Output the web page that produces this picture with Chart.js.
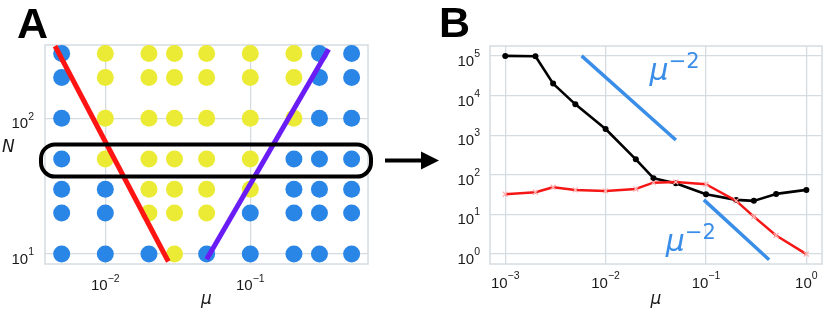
<!DOCTYPE html>
<html>
<head>
<meta charset="utf-8">
<script src="https://cdn.jsdelivr.net/npm/chart.js@4.4.1/dist/chart.umd.min.js"></script>
<style>
  html, body { margin: 0; padding: 0; background: #fff; }
  #wrap { position: relative; width: 830px; height: 316px; overflow: hidden; }
  canvas { position: absolute; top: 0; }
  #cA { left: 0; }
  #cB { left: 430px; }
</style>
</head>
<body>
<div id="wrap">
  <canvas id="cA" width="440" height="316"></canvas>
  <canvas id="cB" width="400" height="316"></canvas>
</div>
<script>
// ## Data: panel A (phase grid) ##########################################
const gridMu = [0.005, 0.01, 0.02, 0.03, 0.05, 0.1, 0.2, 0.3, 0.5];
const gridN  = [300, 200, 100, 50, 30, 20, 10];
// 1 = yellow, 0 = blue, one row per N value above
const gridPhase = [
  [0, 1, 1, 1, 1, 1, 1, 0, 0],
  [0, 1, 1, 1, 1, 1, 1, 0, 0],
  [0, 1, 1, 1, 1, 1, 1, 0, 0],
  [0, 1, 1, 1, 1, 1, 0, 0, 0],
  [0, 0, 1, 1, 1, 1, 0, 0, 0],
  [0, 0, 1, 1, 1, 0, 0, 0, 0],
  [0, 0, 0, 1, 0, 0, 0, 0, 0]
];
const redBoundMu    = [0.0045, 0.0272];
const redBoundN     = [341, 8.8];
const purpleBoundMu = [0.050, 0.347];
const purpleBoundN  = [9.15, 322];
const highlightN    = 50;
const ticksAx = [0.01, 0.1];
const ticksAy = [10, 100];

// ## Data: panel B ######################################################
const muB    = [0.001, 0.002, 0.003, 0.005, 0.01, 0.02, 0.03, 0.05, 0.1, 0.2, 0.3, 0.5, 1];
const blackB = [100000, 98000, 20000, 6000, 1430, 246, 82, 61, 32.4, 23.3, 22, 33, 41.6];
const redB   = [32.4, 36.4, 48.6, 41.6, 39.2, 44, 63.5, 66.1, 57.8, 22, 8.8, 2.94, 1];
const slopeUpperMu = [0.00577, 0.0501];
const slopeUpperY  = [100000, 755];
const slopeLowerMu = [0.0953, 0.4256];
const slopeLowerY  = [23.3, 0.718];
const slopeLabelMu = [0.0287, 0.0417];
const slopeLabelY  = [24400, 1.21];
const ticksBx = [0.001, 0.01, 0.1, 1];
const ticksBy = [1, 10, 100, 1000, 10000, 100000];

// ## helpers ############################################################
const GRID = '#d5dce1';
const BLUE = '#2a86e6';
const YELLOW = '#ebeb35';
const SLOPE = '#3a8ee8';
const TXT = '#1a1a1a';
const F_BASE = '15px Liberation Sans, Arial, sans-serif';
const F_SUP  = '10.5px Liberation Sans, Arial, sans-serif';

function zip(xs, ys) { return xs.map((x, i) => ({ x, y: ys[i] })); }

/** exponent text for a power of ten, with a real minus sign */
function expOf(v) {
  return String(Math.round(Math.log10(v))).replace('-', '−');
}

/** log axis with fixed ticks only, labels drawn by powTicks */
function logAxis(min, max, ticks, size, extra) {
  return Object.assign({
    type: 'logarithmic',
    min, max,
    afterBuildTicks: s => { s.ticks = ticks.map(v => ({ value: v })); },
    afterFit: s => { if (s.isHorizontal()) s.height = size; else s.width = size; },
    grid: { color: GRID, lineWidth: 1.3, drawTicks: false },
    border: { display: false },
    ticks: { display: false }
  }, extra || {});
}

const muTitle = {
  display: true, text: 'μ', color: TXT,
  font: { family: 'DejaVu Sans', size: 17, style: 'italic' },
  padding: { top: 0, bottom: 6 }
};

// frame around plot area, drawn under data
const frame = {
  id: 'frame',
  beforeDatasetsDraw(chart) {
    const { ctx, chartArea: a } = chart;
    ctx.save();
    ctx.strokeStyle = GRID;
    ctx.lineWidth = 1.5;
    ctx.strokeRect(a.left, a.top, a.right - a.left, a.bottom - a.top);
    ctx.restore();
  }
};

// "10" + raised exponent at every tick of both scales
const powTicks = {
  id: 'powTicks',
  afterDraw(chart, args, o) {
    const { ctx, chartArea: a, scales: { x, y } } = chart;
    ctx.save();
    ctx.fillStyle = TXT;
    const label = (v, lx, base) => {
      ctx.font = F_BASE; ctx.fillText('10', lx, base);
      const w = ctx.measureText('10').width;
      ctx.font = F_SUP; ctx.fillText(expOf(v), lx + w, base - o.raise);
    };
    const width = v => {
      ctx.font = F_BASE; const w1 = ctx.measureText('10').width;
      ctx.font = F_SUP;  return w1 + ctx.measureText(expOf(v)).width;
    };
    x.ticks.forEach(t => {
      const px = x.getPixelForValue(t.value);
      label(t.value, px - width(t.value) / 2, a.bottom + o.xBase);
    });
    y.ticks.forEach(t => {
      const py = y.getPixelForValue(t.value);
      label(t.value, a.left - o.yGap - width(t.value), py + 10);
    });
    ctx.restore();
  }
};

// ## Panel A ############################################################
const blueDots = [], yellowDots = [];
gridN.forEach((n, r) => gridMu.forEach((m, c) => {
  (gridPhase[r][c] ? yellowDots : blueDots).push({ x: m, y: n });
}));

const panelAExtras = {
  id: 'panelAExtras',
  afterDraw(chart) {
    const { ctx, chartArea: a } = chart;
    const y = chart.scales.y.getPixelForValue(highlightN) + 1.5;
    ctx.save();
    // highlighted row
    ctx.strokeStyle = '#000';
    ctx.fillStyle = '#000';
    ctx.lineWidth = 4;
    ctx.beginPath();
    ctx.roundRect(a.left - 4, y - 16, a.right - a.left + 7, 32, 14);
    ctx.stroke();
    // arrow to panel B
    const x0 = a.right + 17, x1 = x0 + 54;
    ctx.beginPath();
    ctx.moveTo(x0, y); ctx.lineTo(x1 - 14, y);
    ctx.stroke();
    ctx.beginPath();
    ctx.moveTo(x1, y); ctx.lineTo(x1 - 18, y - 9); ctx.lineTo(x1 - 18, y + 9);
    ctx.closePath(); ctx.fill();
    // letter + y label
    ctx.font = 'bold 43px Liberation Sans, Arial, sans-serif';
    ctx.fillText('A', 17, 38);
    ctx.fillStyle = TXT;
    ctx.font = 'italic 17px DejaVu Sans';
    ctx.fillText('N', 2, 152);
    ctx.restore();
  }
};

new Chart(document.getElementById('cA'), {
  type: 'scatter',
  data: {
    datasets: [
      { data: zip(redBoundMu, redBoundN), type: 'line', showLine: true, borderColor: '#ff1414',
        borderWidth: 5, pointRadius: 0, borderCapStyle: 'butt', order: 0 },
      { data: zip(purpleBoundMu, purpleBoundN), type: 'line', showLine: true, borderColor: '#6a1cf5',
        borderWidth: 5, pointRadius: 0, borderCapStyle: 'butt', order: 0 },
      { data: blueDots, pointRadius: 8.5, pointBackgroundColor: BLUE, pointBorderWidth: 0, order: 1 },
      { data: yellowDots, pointRadius: 8.5, pointBackgroundColor: YELLOW, pointBorderWidth: 0, order: 1 }
    ]
  },
  options: {
    responsive: false,
    animation: false,
    layout: { padding: { left: 0, top: 45, right: 72, bottom: 0 } },
    plugins: {
      legend: { display: false }, tooltip: { enabled: false },
      powTicks: { xBase: 26, yGap: 11, raise: 8.5 }
    },
    scales: {
      x: logAxis(0.003837, 0.6486, ticksAx, 52, { title: muTitle }),
      y: logAxis(8.43, 346.7, ticksAy, 45)
    }
  },
  plugins: [frame, powTicks, panelAExtras]
});

// ## Panel B ############################################################
const panelBExtras = {
  id: 'panelBExtras',
  afterDraw(chart) {
    const { ctx, scales: { x, y } } = chart;
    ctx.save();
    ctx.fillStyle = '#000';
    ctx.font = 'bold 43px Liberation Sans, Arial, sans-serif';
    ctx.fillText('B', 9, 37);
    ctx.fillStyle = SLOPE;
    slopeLabelMu.forEach((m, i) => {
      const px = x.getPixelForValue(m), py = y.getPixelForValue(slopeLabelY[i]);
      ctx.font = 'italic 30px DejaVu Sans';
      ctx.fillText('μ', px - 2, py);
      const w = ctx.measureText('μ').width;
      ctx.font = '21px DejaVu Sans';
      ctx.fillText('−2', px - 2 + w, py - 12);
    });
    ctx.restore();
  }
};

new Chart(document.getElementById('cB'), {
  type: 'scatter',
  data: {
    datasets: [
      { data: zip(muB, redB), showLine: true, borderColor: '#f51616', borderWidth: 2.5,
        borderJoinStyle: 'round', pointStyle: 'crossRot', pointRadius: 3.5,
        pointBorderColor: '#ffb0b0', pointBorderWidth: 1.3, order: 0 },
      { data: zip(muB, blackB), showLine: true, borderColor: '#000', borderWidth: 2.6,
        borderJoinStyle: 'round', pointRadius: 3, pointBackgroundColor: '#000',
        pointBorderWidth: 0, order: 1 },
      { data: zip(slopeUpperMu, slopeUpperY), showLine: true, borderColor: SLOPE, borderWidth: 3.5,
        pointRadius: 0, borderCapStyle: 'butt', order: 2 },
      { data: zip(slopeLowerMu, slopeLowerY), showLine: true, borderColor: SLOPE, borderWidth: 3.5,
        pointRadius: 0, borderCapStyle: 'butt', order: 2 }
    ]
  },
  options: {
    responsive: false,
    animation: false,
    layout: { padding: { left: 0, top: 46, right: 8, bottom: 0 } },
    plugins: {
      legend: { display: false }, tooltip: { enabled: false },
      powTicks: { xBase: 24, yGap: 10, raise: 9 }
    },
    scales: {
      x: logAxis(0.000705, 1.432, ticksBx, 52, { title: muTitle }),
      y: logAxis(0.562, 177800, ticksBy, 60)
    }
  },
  plugins: [frame, powTicks, panelBExtras]
});
</script>
</body>
</html>
